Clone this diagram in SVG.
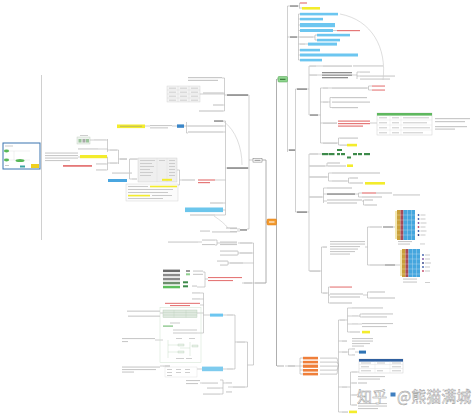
<svg xmlns="http://www.w3.org/2000/svg" width="474" height="417" viewBox="0 0 474 417">
<style>
.c{fill:none;stroke:#b0b0b0;stroke-width:.6}
.s{fill:none;stroke:#9a9a9a;stroke-width:.8}
.rel{fill:none;stroke:#c8c8c8;stroke-width:.6}
.t{fill:#c9c9c9}
.k{fill:#8e8e8e}
.r{fill:#e57878}
.b{fill:#6cc6f0}
.bd{fill:#2f74b5}
.y{fill:#f3ec2c}
.o{fill:#ef7f3a}
.gd{fill:#3d8a4a}
.gl{fill:#8fd28f}
.tb{fill:#f7f7f7;stroke:#cfcfcf;stroke-width:.5}
.wm{font-family:"Noto Sans CJK SC","Noto Sans",sans-serif;font-size:15px;fill:#f8f8f8;stroke:#999999;stroke-width:.45}
</style>
<rect width="474" height="417" fill="#ffffff"/>

<g id="connectors">
<path class="s" d="M276.5,79V366M276,222H277M277,79H278M277,366H279"/>
<path class="c" d="M287.5,6V152M287.5,6H290M287.5,37H290M287.5,150H289"/>
<path class="c" d="M298,6H299.5M299.5,3V8.5M299.5,3H300M299.5,8H302"/>
<path class="c" d="M297,37H298.5M298.5,14V60M298.5,14H300M298.5,19H300M298.5,25H300M298.5,30.5H300M298.5,37H300M298.5,44H300M298.5,50H300M298.5,55H300M298.5,60H300M313,37H315M315,35V40M315,35H317M315,40H317M305,44H308M333,30.5H337"/>
<path class="rel" d="M340,14C372,20 387,48 383,80"/>
<path class="c" d="M295,150H295.5M295.5,89V212M295.5,89H297M295.5,212H297"/>
<path class="c" d="M307,89H309M309,66V115M309,66H310M309,75H310M309,115H310M316,66H323M317,75H322M352,75H357M357,72V79M357,72H360M357,76H360"/>
<path class="c" d="M318,115H320.5M320.5,88V143M320.5,88H323M320.5,102H323M320.5,123H323M320.5,143H323"/>
<path class="c" d="M328,88H332M367,88H368.5M368.5,86V90M368.5,86H372M368.5,90H372M328,102H330M330,97.5V107.5M330,97.5H332M330,107.5H332M370,123H377M337,143H338.5M338.5,138V145M338.5,138H340M338.5,145H340"/>
<path class="c" d="M307,212H309M309,154V271M309,154H310M309,166H310M309,177H310M309,197H310M309,271H310"/>
<path class="c" d="M318,154H322M325,166H327M327,163V166M327,163H328M327,166H328M327,177H328.5M328.5,173V181M328.5,173H332M328.5,181H332M347,181H348.5M348.5,178V183M348.5,178H350M348.5,183H350M322,197H323.5M323.5,188V203M323.5,188H327M323.5,194H327M323.5,201H327M355,194H358.5M358.5,193V197M358.5,193H362M358.5,197H362M362,201H363.5M363.5,200V205M363.5,200H365M363.5,205H365"/>
<path class="c" d="M320,271H321.5M321.5,247V293M321.5,247H323M321.5,293H323M365,247H367.5M367.5,227V265M367.5,227H370M367.5,265H370M393,227H395M395,265H400"/>
<path class="c" d="M327,293H328.5M328.5,287V303M328.5,287H330M328.5,295H330M328.5,303H330M363,295H367.5M367.5,292V298M367.5,292H370M367.5,298H370"/>
<path class="c" d="M285,366H300M300,358V374M300,358H303M300,362H303M300,366H303M300,370H303M300,374H303M337,358L338.5,365M337,362L338.5,365M337,366H338.5M337,370L338.5,365M337,374L338.5,365"/>
<path class="c" d="M338.5,320V412M338.5,320H340M338.5,341H342M338.5,352H342M338.5,387H342M338.5,412H342"/>
<path class="c" d="M345,320H347.5M347.5,308V332M347.5,308H352M347.5,316H352M347.5,324H352M347.5,332H350M358,316H360M360,314V317M360,314H362M360,317H362M358,324H362"/>
<path class="c" d="M347,352H348.5M348.5,349V355M348.5,349H352M348.5,355H352M355,352H359M347,387H350.5M350.5,372V405M350.5,372H352M350.5,383H352M350.5,395H352M350.5,405H352M357,372H359"/>
<path class="s" d="M267,222H266M266,160V283M266,160H262M266,283H265"/>
<path class="c" d="M253,160H249M249,95V229M249,95H248M249,168H248M249,229H247M240,229H237"/>
<path class="c" d="M227,95H224.5M224.5,78V111M224.5,78H222M224.5,94H200M224.5,93H223M224.5,105H223M224.5,111H223"/>
<path class="c" d="M227,168H225.5M225.5,121V215M225.5,121H223M225.5,126H223M225.5,132H223M225.5,180H215M225.5,203H223M225.5,210H223M225.5,215H215"/>
<path class="c" d="M188,126H186.5M186.5,122V133M186.5,126H184M186.5,133H188M177,126H172M150,126H145"/>
<path class="c" d="M182,180H179.5M179.5,170V185M179.5,170H177M179.5,185H178"/>
<path class="c" d="M138,159H137M130,159H129.5M129.5,159V179M129.5,179H132M127,159H118.5M118.5,150V164M118.5,150H117M118.5,163H117M110,150H107.5M107.5,139V152M107.5,140H106M107.5,149H98M110,163H107.5M107.5,157V170M107.5,157H107M107.5,164H106M107.5,170H106M94,140H90M77,141H78M80,157H78"/>
<path class="rel" d="M223,121C236,130 242,148 242,165"/>
<path class="rel" d="M214,216C220,220 225,224 228,228"/>
<path class="c" d="M255,283H253.5M253.5,243V365M253.5,243H252M253.5,253H252M253.5,263H243M253.5,283H244M253.5,365H247.5M247.5,342V387M247.5,342H245M247.5,387H245"/>
<path class="c" d="M240,243H238M240,253H238M238,251V255M238,251H237M238,255H237M237,243H217M217,240V245M217,240H215M217,245H215M202,242H198M230,263H228M228,261V265M228,261H227M228,265H227M240,231H237"/>
<path class="c" d="M244,283H242M208,279H205M205,272V287M205,272H203M205,287H197"/>
<path class="c" d="M237,342H235M235,315V369M235,315H233M235,369H233M227,315H223M210,315H203.5M203.5,293V333M203.5,293H200M203.5,299H200M203.5,305H200M203.5,313H197M203.5,333H197M227,369H223M202,369H197M170,366H165M163,366H160M163,313H160M163,340H155"/>
<path class="c" d="M233,387H228M226,383H223M223,380V394M223,380H220M223,388H220M223,394H220M202,383H200"/>
<path class="c" d="M41.5,75V240" stroke="#cccccc"/>
</g>

<g id="root"><rect x="267" y="219" width="9.5" height="6" rx="1" fill="#f29a2e" stroke="#e07b10" stroke-width=".5"/><rect x="269" y="221.5" width="5.5" height="1" fill="#fff"/></g>
<g id="green-node"><rect x="278" y="76.5" width="9.5" height="5.5" rx="1" fill="#8fd58f" stroke="#4aa04a" stroke-width=".5"/><rect x="280" y="78.8" width="5.5" height="1" fill="#2d6b2d"/></g>

<g id="top-right">
<rect class="k" x="290" y="5.3" width="8" height="1.5"/>
<rect class="r" x="300" y="2.4" width="7" height="1.2"/>
<rect class="y" x="302" y="7" width="18" height="2.6"/>
<rect class="k" x="290" y="36.3" width="7" height="1.5"/>
<rect class="b" x="300" y="12.8" width="38" height="2.6"/>
<rect class="b" x="300" y="17.8" width="23" height="2.6"/>
<rect class="b" x="300" y="23" width="35" height="4.2"/>
<rect class="b" x="300" y="29" width="33" height="3"/>
<rect class="r" x="337" y="30" width="23" height="1.2"/>
<rect class="t" x="300" y="36.4" width="13" height="1.3"/>
<rect class="b" x="317" y="33.8" width="33" height="2.6"/>
<rect class="b" x="317" y="38.8" width="23" height="2.6"/>
<rect class="t" x="300" y="43.4" width="5" height="1.3"/>
<rect class="b" x="308" y="42.6" width="29" height="3"/>
<rect class="b" x="300" y="48.8" width="20" height="2.6"/>
<rect class="b" x="300" y="53.5" width="58" height="3"/>
<rect class="b" x="300" y="58.8" width="22" height="2.6"/>
</g>

<g id="branch-a">
<rect class="k" x="289" y="149.3" width="6" height="1.6"/>
<rect class="k" x="297" y="88.3" width="10" height="1.6"/>
<rect class="t" x="310" y="65.4" width="6" height="1.3"/>
<rect class="t" x="323" y="65.4" width="29" height="1.3"/>
<rect class="t" x="353" y="65.4" width="30" height="1.1"/>
<rect class="t" x="310" y="74.4" width="7" height="1.3"/>
<rect class="k" x="322" y="72" width="30" height="1.3"/>
<rect class="k" x="322" y="74.5" width="30" height="1.3"/>
<rect class="k" x="322" y="77" width="26" height="1.3"/>
<rect class="t" x="360" y="71.5" width="10" height="1.1"/>
<rect class="t" x="360" y="75.5" width="35" height="1.1"/>
<rect class="t" x="360" y="78.5" width="30" height="1.1"/>
<rect class="k" x="310" y="114.3" width="8" height="1.5"/>
<rect class="t" x="323" y="87.4" width="5" height="1.3"/>
<rect class="t" x="332" y="87.4" width="35" height="1.3"/>
<rect class="r" x="372" y="85.5" width="13" height="1.1"/>
<rect class="r" x="372" y="89.5" width="13" height="1.1"/>
<rect class="t" x="323" y="101.4" width="5" height="1.3"/>
<rect class="t" x="332" y="97" width="35" height="1.2"/>
<rect class="t" x="332" y="101.5" width="38" height="1.2"/>
<rect class="t" x="332" y="107" width="26" height="1.2"/>
<rect class="t" x="323" y="122.4" width="14" height="1.4"/>
<rect class="r" x="338" y="120.5" width="32" height="1.2"/>
<rect class="r" x="338" y="123" width="32" height="1.2"/>
<rect class="r" x="338" y="125.5" width="25" height="1.2"/>
<rect class="t" x="323" y="142.4" width="14" height="1.4"/>
<rect class="t" x="340" y="137.5" width="18" height="1.2"/>
<rect class="t" x="340" y="144.5" width="7" height="1.2"/>
<rect class="y" x="347" y="143.8" width="10" height="2.6"/>
<g id="green-table">
<rect x="377" y="113" width="55" height="22" fill="#fff" stroke="#cfcfcf" stroke-width=".5"/>
<rect x="377" y="113" width="55" height="2.6" fill="#5fb85f"/>
<path d="M377,120H432M377,125H432M377,130H432M390,115.6V135M401,115.6V135" stroke="#dddddd" stroke-width=".4"/>
<rect class="t" x="379" y="117.3" width="8" height="1"/><rect class="t" x="392" y="117.3" width="7" height="1"/><rect class="t" x="403" y="117.3" width="26" height="1"/>
<rect class="t" x="379" y="122.3" width="8" height="1"/><rect class="t" x="392" y="122.3" width="7" height="1"/><rect class="t" x="403" y="122.3" width="24" height="1"/>
<rect class="t" x="379" y="127.3" width="8" height="1"/><rect class="t" x="392" y="127.3" width="7" height="1"/><rect class="t" x="403" y="127.3" width="27" height="1"/>
<rect class="t" x="379" y="132.3" width="8" height="1"/><rect class="t" x="392" y="132.3" width="7" height="1"/><rect class="t" x="403" y="132.3" width="20" height="1"/>
</g>
<rect class="t" x="435" y="118" width="35" height="1.2"/>
<rect class="t" x="435" y="121" width="30" height="1.2"/>
<rect class="t" x="435" y="126" width="32" height="1.2"/>
<rect class="t" x="435" y="128.5" width="20" height="1.2"/>
</g>

<g id="branch-b">
<rect class="k" x="297" y="211.3" width="10" height="1.6"/>
<rect class="t" x="310" y="153.3" width="8" height="1.4"/>
<rect class="gd" x="337" y="149" width="5" height="2"/>
<rect class="gd" x="322" y="153" width="6" height="2.2"/>
<rect class="gd" x="328.5" y="153" width="6" height="2.2"/>
<rect class="gd" x="337" y="153" width="3" height="2.2"/>
<rect class="gd" x="341" y="153" width="4" height="2.2"/>
<rect class="gd" x="353" y="153" width="4" height="2.2"/>
<rect class="gd" x="358" y="153" width="4" height="2.2"/>
<rect class="gd" x="364" y="153" width="6" height="2.2"/>
<rect class="gd" x="347" y="156.5" width="4" height="2"/>
<rect class="t" x="310" y="165.3" width="15" height="1.4"/>
<rect class="t" x="328" y="162.4" width="12" height="1.2"/>
<rect class="t" x="328" y="165.4" width="18" height="1.2"/>
<rect class="y" x="347" y="164.4" width="6" height="2.6"/>
<rect class="t" x="310" y="176.3" width="17" height="1.4"/>
<rect class="t" x="332" y="172.4" width="48" height="1.2"/>
<rect class="t" x="332" y="180.4" width="15" height="1.2"/>
<rect class="t" x="350" y="177.4" width="8" height="1.2"/>
<rect class="t" x="350" y="182.4" width="13" height="1.2"/>
<rect class="y" x="365" y="182" width="20" height="2.6"/>
<rect class="t" x="310" y="196.3" width="12" height="1.4"/>
<rect class="t" x="327" y="187.4" width="25" height="1.2"/>
<rect class="k" x="327" y="193.3" width="28" height="1.5"/>
<rect class="r" x="362" y="192.4" width="14" height="1.2"/>
<rect class="t" x="376" y="192.4" width="16" height="1.2"/>
<rect class="t" x="362" y="196.4" width="20" height="1.2"/>
<rect class="t" x="393" y="194.4" width="27" height="1.1"/>
<rect class="t" x="327" y="199.4" width="35" height="1.2"/>
<rect class="t" x="327" y="202.4" width="30" height="1.2"/>
<rect class="t" x="365" y="199.4" width="8" height="1.2"/>
<rect class="t" x="365" y="204.4" width="12" height="1.2"/>
<rect class="t" x="310" y="270.3" width="10" height="1.5"/>
<rect class="t" x="323" y="246.4" width="4" height="1.3"/>
<rect class="t" x="330" y="241" width="35" height="1.1"/>
<rect class="t" x="330" y="243.5" width="35" height="1.1"/>
<rect class="t" x="330" y="246" width="30" height="1.1"/>
<rect class="t" x="330" y="248.5" width="28" height="1.1"/>
<rect class="t" x="330" y="251" width="25" height="1.1"/>
<rect class="t" x="330" y="253.5" width="20" height="1.1"/>
<rect class="t" x="370" y="226.4" width="12" height="1.2"/>
<rect class="k" x="383" y="226.4" width="10" height="1.2"/>
<rect class="t" x="370" y="264.4" width="15" height="1.2"/>
<rect class="k" x="385" y="264.4" width="10" height="1.2"/>
<rect class="t" x="323" y="292.4" width="4" height="1.3"/>
<rect class="r" x="330" y="286.5" width="22" height="1.1"/>
<rect class="t" x="330" y="293.4" width="33" height="1.2"/>
<rect class="t" x="330" y="296.4" width="30" height="1.2"/>
<rect class="t" x="370" y="291.4" width="15" height="1.2"/>
<rect class="t" x="370" y="297.4" width="25" height="1.2"/>
<rect class="t" x="330" y="302.4" width="22" height="1.2"/>
</g>

<g id="color-table-1">
<rect x="395.5" y="211" width="1" height="28" fill="#e8d060"/>
<rect x="397" y="210" width="3.5" height="30" fill="#c9a03a"/>
<rect x="400.5" y="210" width="3" height="30" fill="#a84a58"/>
<rect x="403.5" y="210" width="11.5" height="30" fill="#45a6de"/>
<path d="M397,215H415M397,220H415M397,225H415M397,230H415M397,235H415M407.5,210V240M411.5,210V240" stroke="#ffffff" stroke-width=".4" opacity=".7"/>
<circle cx="418.5" cy="215" r=".9" fill="#3a5aa8"/><circle cx="418.5" cy="219" r=".9" fill="#3a5aa8"/><circle cx="418.5" cy="223" r=".9" fill="#7a4aa0"/><circle cx="418.5" cy="227" r=".9" fill="#c04060"/><circle cx="418.5" cy="231" r=".9" fill="#3a5aa8"/><circle cx="418.5" cy="235" r=".9" fill="#2a3a80"/>
<rect class="t" x="420.5" y="214.5" width="5" height="1"/><rect class="t" x="420.5" y="218.5" width="5" height="1"/><rect class="t" x="420.5" y="222.5" width="6" height="1"/><rect class="t" x="420.5" y="226.5" width="5" height="1"/><rect class="t" x="420.5" y="230.5" width="6" height="1"/><rect class="t" x="420.5" y="234.5" width="5" height="1"/>
<rect class="t" x="398" y="241" width="14" height="1.1"/><rect class="t" x="398" y="243.5" width="12" height="1.1"/><rect class="t" x="420" y="243.5" width="5" height=".9"/>
</g>
<g id="color-table-2">
<rect x="400.5" y="250" width="1" height="26" fill="#e8d060"/>
<rect x="402" y="249" width="3.5" height="28" fill="#c9a03a"/>
<rect x="405.5" y="249" width="3" height="28" fill="#a84a58"/>
<rect x="408.5" y="249" width="11.5" height="28" fill="#45a6de"/>
<path d="M402,254H420M402,259H420M402,264H420M402,269H420M402,274H420M412.5,249V277M416.5,249V277" stroke="#ffffff" stroke-width=".4" opacity=".7"/>
<circle cx="423" cy="255" r=".9" fill="#3a5aa8"/><circle cx="423" cy="259" r=".9" fill="#7a4aa0"/><circle cx="423" cy="263" r=".9" fill="#2a3a80"/><circle cx="423" cy="267" r=".9" fill="#3a5aa8"/><circle cx="423" cy="271" r=".9" fill="#c04060"/>
<rect class="t" x="425" y="254.5" width="5" height="1"/><rect class="t" x="425" y="258.5" width="5" height="1"/><rect class="t" x="425" y="262.5" width="6" height="1"/><rect class="t" x="425" y="266.5" width="5" height="1"/><rect class="t" x="425" y="270.5" width="5" height="1"/>
<rect class="t" x="403" y="278.5" width="14" height="1.1"/><rect class="t" x="403" y="281.5" width="14" height="1.1"/><rect class="t" x="425" y="282" width="5" height=".9"/>
</g>

<g id="branch-c">
<rect class="t" x="279" y="365.3" width="5" height="1.4"/>
<rect class="t" x="288" y="365.3" width="7" height="1.4"/>
<rect class="o" x="303" y="356.8" width="15" height="2.6"/>
<rect class="o" x="303" y="360.8" width="15" height="2.6"/>
<rect class="o" x="303" y="364.6" width="15" height="3.2"/>
<rect class="o" x="303" y="369" width="15" height="2.6"/>
<rect class="o" x="303" y="372.8" width="15" height="2.6"/>
<rect class="t" x="320" y="357.6" width="17" height="1"/><rect class="t" x="320" y="361.6" width="17" height="1"/><rect class="t" x="320" y="365.6" width="17" height="1"/><rect class="t" x="320" y="369.6" width="17" height="1"/><rect class="t" x="320" y="373.6" width="17" height="1"/>
<rect class="t" x="340" y="319.4" width="5" height="1.3"/>
<rect class="t" x="352" y="307.4" width="31" height="1.1"/>
<rect class="t" x="352" y="315.4" width="6" height="1.1"/>
<rect class="t" x="362" y="313.4" width="31" height="1.1"/>
<rect class="t" x="362" y="316.4" width="25" height="1.1"/>
<rect class="t" x="352" y="323.4" width="6" height="1.1"/>
<rect class="t" x="362" y="323" width="31" height="1.1"/>
<rect class="t" x="362" y="326" width="25" height="1.1"/>
<rect class="t" x="350" y="331.4" width="10" height="1.2"/>
<rect class="y" x="362" y="330.8" width="8" height="2.6"/>
<rect class="t" x="342" y="340.4" width="5" height="1.3"/>
<rect class="t" x="352" y="338" width="21" height="1.1"/><rect class="t" x="352" y="340.5" width="21" height="1.1"/><rect class="t" x="352" y="343" width="18" height="1.1"/><rect class="t" x="352" y="345.5" width="12" height="1.1"/>
<rect class="t" x="342" y="351.4" width="5" height="1.3"/>
<rect class="t" x="352" y="348.4" width="3" height="1.1"/><rect class="t" x="352" y="354.4" width="3" height="1.1"/>
<rect class="bd" x="359" y="350.6" width="7" height="3"/>
<rect class="t" x="342" y="386.4" width="5" height="1.3"/>
<rect class="t" x="352" y="371.4" width="5" height="1.2"/>
<g id="blue-table">
<rect x="359" y="359" width="44" height="14" fill="#fff" stroke="#cfcfcf" stroke-width=".5"/>
<rect x="359" y="359" width="44" height="2.6" fill="#2f5f9f"/>
<path d="M359,364.5H403M359,368.5H403M375,361.6V373M390,361.6V373" stroke="#dddddd" stroke-width=".4"/>
<rect class="t" x="361" y="362.5" width="10" height="1"/><rect class="t" x="377" y="362.5" width="8" height="1"/><rect class="t" x="392" y="362.5" width="9" height="1"/>
<rect class="t" x="361" y="366.3" width="8" height="1"/><rect class="t" x="392" y="366.3" width="9" height="1"/>
<rect class="t" x="361" y="370.3" width="10" height="1"/><rect class="t" x="377" y="370.3" width="6" height="1"/><rect class="t" x="392" y="370.3" width="9" height="1"/>
</g>
<rect class="t" x="358" y="376" width="27" height="1.1"/><rect class="t" x="358" y="378.5" width="22" height="1.1"/>
<rect class="t" x="352" y="382.4" width="5" height="1.2"/><rect class="t" x="358" y="382.4" width="9" height="1.2"/>
<rect class="t" x="352" y="394.4" width="5" height="1.2"/>
<rect x="390.5" y="392.5" width="5" height="4" fill="#3f7fc0"/>
<rect class="t" x="352" y="404.4" width="5" height="1.2"/>
<rect class="t" x="358" y="403" width="29" height="1.1"/><rect class="t" x="358" y="405.5" width="29" height="1.1"/><rect class="t" x="358" y="408" width="20" height="1.1"/>
<rect class="t" x="342" y="411.4" width="6" height="1.3"/>
<rect class="y" x="349" y="410.6" width="8" height="2.6"/>
</g>

<g id="left-upper">
<rect x="253" y="158.6" width="9" height="3.5" fill="#fff" stroke="#777" stroke-width=".5"/>
<rect class="k" x="254.5" y="159.8" width="6" height="1"/>
<rect class="k" x="227" y="94.2" width="21" height="1.7"/>
<rect class="t" x="188" y="77" width="34" height="1.2"/>
<rect class="t" x="188" y="79.8" width="30" height="1.2"/>
<g id="gray-table-top">
<rect x="167" y="86" width="33" height="16" fill="#f4f4f4" stroke="#cdcdcd" stroke-width=".4"/>
<path d="M167,90H200M167,94H200M167,98H200M178,86V102M189,86V102" stroke="#d6d6d6" stroke-width=".4"/>
<rect class="t" x="169" y="87.7" width="7" height=".9"/><rect class="t" x="180" y="87.7" width="7" height=".9"/><rect class="t" x="191" y="87.7" width="7" height=".9"/>
<rect class="t" x="169" y="91.7" width="7" height=".9"/><rect class="t" x="180" y="91.7" width="7" height=".9"/><rect class="t" x="191" y="91.7" width="7" height=".9"/>
<rect class="t" x="169" y="95.7" width="7" height=".9"/><rect class="t" x="180" y="95.7" width="7" height=".9"/><rect class="t" x="191" y="95.7" width="7" height=".9"/>
<rect class="t" x="169" y="99.7" width="7" height=".9"/><rect class="t" x="180" y="99.7" width="7" height=".9"/><rect class="t" x="191" y="99.7" width="7" height=".9"/>
</g>
<rect class="t" x="203" y="92.4" width="20" height="1.2"/>
<rect class="t" x="213" y="104.4" width="10" height="1.2"/>
<rect class="t" x="199" y="110.4" width="24" height="1.2"/>
<rect class="k" x="227" y="167.2" width="21" height="1.7"/>
<rect class="k" x="214" y="120.3" width="9" height="1.5"/>
<rect class="t" x="188" y="125.4" width="35" height="1.2"/>
<rect class="t" x="188" y="131.4" width="35" height="1.2"/>
<rect x="177" y="124.4" width="7" height="3.4" fill="#3a86c8"/>
<rect class="t" x="150" y="125" width="22" height="1.1"/>
<rect class="t" x="150" y="127.3" width="18" height="1.1"/>
<rect class="y" x="117" y="124.5" width="28" height="3.6"/>
<rect class="k" x="120" y="125.8" width="22" height="1" opacity=".5"/>
<rect class="t" x="182" y="179.4" width="13" height="1.2"/>
<rect class="r" x="198" y="179.4" width="17" height="1.2"/>
<rect class="r" x="198" y="182" width="12" height="1.2"/>
<rect class="t" x="210" y="202.4" width="13" height="1.2"/>
<rect x="185" y="207.5" width="38" height="4.6" fill="#6cc6ec"/>
<rect class="t" x="190" y="214.4" width="25" height="1.2"/>
<rect class="t" x="226" y="227.4" width="11" height="1.2"/>
<g id="gray-table-mid">
<rect x="138" y="158" width="39" height="24" fill="#efefef" stroke="#c8c8c8" stroke-width=".4"/>
<path d="M157,158V182M167,158V182" stroke="#d8d8d8" stroke-width=".4"/>
<rect class="t" x="140" y="160" width="15" height=".9"/><rect class="t" x="159" y="160" width="6" height=".9"/><rect class="t" x="169" y="160" width="6" height=".9"/>
<rect class="t" x="140" y="163" width="12" height=".9"/><rect class="t" x="169" y="163" width="6" height=".9"/>
<rect class="t" x="140" y="166" width="14" height=".9"/><rect class="t" x="169" y="166" width="6" height=".9"/>
<rect class="t" x="140" y="169" width="10" height=".9"/><rect class="t" x="169" y="169" width="6" height=".9"/>
<rect class="t" x="140" y="172" width="13" height=".9"/><rect class="t" x="169" y="172" width="6" height=".9"/>
<rect class="t" x="140" y="175" width="11" height=".9"/><rect class="t" x="169" y="175" width="6" height=".9"/>
<rect class="y" x="162" y="178.8" width="10" height="2"/>
</g>
<rect x="126" y="184" width="52" height="17" fill="#fbfbfb" stroke="#cccccc" stroke-width=".4"/>
<rect class="t" x="128" y="186" width="20" height="1"/><rect class="y" x="150" y="185.7" width="27" height="1.6"/>
<rect class="t" x="128" y="189" width="45" height="1"/>
<rect class="t" x="128" y="192" width="40" height="1"/>
<rect class="y" x="128" y="194.8" width="22" height="1.6"/><rect class="t" x="152" y="195" width="20" height="1"/>
<rect class="t" x="128" y="198" width="35" height="1"/>
</g>

<g id="left-far">
<rect class="t" x="130" y="158.4" width="7" height="1.3"/>
<rect class="t" x="132" y="178.4" width="5" height="1.2"/>
<rect x="108" y="179" width="19" height="3" fill="#4aa6e0"/>
<rect class="t" x="112" y="172.5" width="20" height="1.1"/>
<rect class="t" x="120" y="158.4" width="7" height="1.3"/>
<rect class="t" x="110" y="149.4" width="7" height="1.3"/>
<rect class="t" x="110" y="162.4" width="7" height="1.3"/>
<rect x="77" y="137" width="13" height="7" fill="#eef3ee" stroke="#b9c9b9" stroke-width=".4"/>
<rect x="78.5" y="139" width="3" height="3.5" fill="#9bc59b"/><rect x="82.5" y="139" width="3" height="3.5" fill="#a9a9a9"/><rect x="86" y="139" width="3" height="3.5" fill="#9bc59b"/>
<rect class="t" x="80" y="135" width="8" height=".9"/>
<rect class="t" x="94" y="139.4" width="12" height="1.1"/>
<rect class="t" x="78" y="148.4" width="20" height="1.1"/>
<rect class="y" x="80" y="155" width="27" height="3.2"/>
<rect class="r" x="63" y="165" width="29" height="1.8"/>
<rect class="t" x="96" y="163.4" width="10" height="1.1"/>
<rect class="t" x="96" y="169.4" width="10" height="1.1"/>
<rect class="t" x="45" y="152.5" width="33" height="1.1"/>
<rect class="t" x="45" y="155" width="33" height="1.1"/>
<rect class="t" x="45" y="157.5" width="33" height="1.1"/>
<rect class="t" x="45" y="160" width="25" height="1.1"/>
</g>

<g id="frame-image">
<rect x="3" y="143" width="37" height="26" fill="#ffffff" stroke="#3b74b0" stroke-width="1"/>
<rect class="t" x="5" y="145.5" width="8" height="1"/>
<path d="M8,151H30M8,160H30M14,151V160" stroke="#d8d8d8" stroke-width=".4"/>
<ellipse cx="6.5" cy="151" rx="2.6" ry="1.4" fill="#58b858"/>
<ellipse cx="6.5" cy="160" rx="2.6" ry="1.4" fill="#58b858"/>
<ellipse cx="20" cy="160.5" rx="4.5" ry="1.6" fill="#58b858"/>
<rect x="20" y="165.5" width="5" height="2" fill="#3aa3a3"/>
<rect x="31" y="164" width="8" height="4" fill="#f0d020"/>
<rect class="t" x="5" y="165" width="4" height="1"/>
</g>

<g id="left-lower">
<rect class="t" x="255" y="282.2" width="10" height="1.6"/>
<rect class="k" x="240" y="229.2" width="7" height="1.5"/>
<rect class="t" x="230" y="228" width="7" height="1.1"/><rect class="t" x="230" y="231" width="7" height="1.1"/>
<rect class="t" x="200" y="230.5" width="10" height="1.1"/>
<rect class="t" x="212" y="231.4" width="25" height="1.1"/>
<rect class="t" x="240" y="242.3" width="12" height="1.4"/>
<rect class="t" x="220" y="241.5" width="17" height="1.1"/><rect class="t" x="220" y="244" width="17" height="1.1"/>
<rect class="t" x="202" y="239.5" width="13" height="1.1"/><rect class="t" x="202" y="244" width="13" height="1.1"/>
<rect class="t" x="168" y="241.5" width="30" height="1.1"/>
<rect class="t" x="240" y="252.3" width="12" height="1.4"/>
<rect class="t" x="220" y="250.5" width="17" height="1.1"/><rect class="t" x="220" y="254.5" width="17" height="1.1"/>
<rect class="t" x="230" y="262.3" width="13" height="1.4"/>
<rect class="t" x="217" y="260.5" width="10" height="1.1"/><rect class="t" x="220" y="264.5" width="7" height="1.1"/>
<rect class="t" x="244" y="282.4" width="8" height="1.2"/>
<rect class="r" x="208" y="277" width="34" height="1.1"/><rect class="r" x="208" y="280" width="25" height="1.1"/>
<rect x="163" y="269.6" width="17" height="2.5" fill="#6a6a6a"/>
<rect x="163" y="273.8" width="17" height="2.5" fill="#8a8a8a"/>
<rect x="163" y="277.8" width="17" height="2.5" fill="#8a8a8a"/>
<rect x="163" y="281.8" width="17" height="2.5" fill="#6d8f6d"/>
<rect x="163" y="285.8" width="17" height="2.5" fill="#5cbf5c"/>
<rect x="186" y="270" width="4" height="2" fill="#9a9a9a"/><rect x="186" y="273.3" width="4" height="2" fill="#8fcf8f"/>
<rect class="t" x="193" y="270.5" width="10" height="1.1"/><rect class="t" x="193" y="273.8" width="10" height="1.1"/>
<rect class="gd" x="183" y="281.3" width="5" height="2"/><rect class="gd" x="183" y="285.3" width="5" height="2"/>
<rect class="t" x="192" y="285.5" width="5" height="1.1"/>
<rect class="t" x="192" y="292.4" width="8" height="1.1"/>
<rect class="t" x="192" y="298.4" width="8" height="1.1"/>
<rect class="r" x="165" y="302.8" width="35" height="1.1"/><rect class="r" x="170" y="305" width="20" height="1.1"/>
<rect x="160" y="307.5" width="41" height="55" fill="none" stroke="#cfe2cf" stroke-width=".5"/>
<rect x="163" y="310" width="34" height="7.5" fill="#dfe9df" stroke="#b5cab5" stroke-width=".4"/>
<path d="M163,312.5H197M163,315H197M174,310V317.5M186,310V317.5" stroke="#b5cab5" stroke-width=".3"/>
<rect class="t" x="127" y="310.6" width="33" height="1.1"/><rect class="t" x="128" y="315.6" width="32" height="1.1"/>
<rect class="t" x="170" y="322.5" width="10" height="1"/>
<rect x="163" y="325.5" width="10" height="1.2" fill="#7cbf7c"/>
<rect class="t" x="173" y="329.5" width="24" height="1"/><rect class="t" x="173" y="332.5" width="24" height="1"/>
<rect x="210" y="313.6" width="13" height="3" class="b"/>
<rect class="t" x="227" y="314.4" width="6" height="1.2"/>
<rect class="t" x="237" y="341.4" width="8" height="1.3"/>
<g id="mini-diagram">
<path d="M168,340V358M168,345H178M168,352H178M190,342V356M180,348H190" stroke="#bcd4bc" stroke-width=".4" fill="none"/>
<rect x="178" y="344" width="6" height="2" fill="#e9f2e9" stroke="#aac4aa" stroke-width=".3"/>
<rect x="178" y="351" width="6" height="2" fill="#e9f2e9" stroke="#aac4aa" stroke-width=".3"/>
<rect x="192" y="345" width="6" height="2" fill="#e9f2e9" stroke="#aac4aa" stroke-width=".3"/>
<rect class="t" x="176" y="338" width="6" height=".9"/><rect class="t" x="189" y="338" width="6" height=".9"/>
<rect class="t" x="176" y="358" width="8" height=".9"/><rect class="t" x="186" y="358" width="6" height=".9"/>
</g>
<rect class="t" x="122" y="338" width="33" height="1.1"/><rect class="t" x="122" y="341" width="6" height="1.1"/>
<rect class="t" x="122" y="366.5" width="38" height="1.1"/><rect class="t" x="122" y="369" width="34" height="1.1"/><rect class="t" x="122" y="371.5" width="12" height="1.1"/>
<rect class="t" x="163" y="365.5" width="7" height="1.1"/>
<rect x="165" y="367" width="32" height="10" fill="#fff" stroke="#dcdcdc" stroke-width=".4"/>
<rect class="t" x="167" y="369" width="5" height=".9"/><rect class="t" x="176" y="369" width="5" height=".9"/><rect class="t" x="185" y="369" width="5" height=".9"/>
<rect class="t" x="167" y="372" width="5" height=".9"/><rect class="t" x="176" y="372" width="5" height=".9"/><rect class="t" x="185" y="372" width="5" height=".9"/>
<rect class="t" x="167" y="375" width="5" height=".9"/>
<rect x="202" y="366.6" width="21" height="4.6" fill="#7ecbee"/>
<rect class="t" x="227" y="368.4" width="6" height="1.2"/>
<rect class="t" x="233" y="386.4" width="12" height="1.3"/>
<rect class="t" x="226" y="382.4" width="6" height="1.1"/><rect class="t" x="226" y="391.4" width="6" height="1.1"/>
<rect class="t" x="186" y="380" width="14" height="1.1"/><rect class="t" x="186" y="383" width="12" height="1.1"/>
<rect class="t" x="202" y="382.5" width="16" height="1.1"/>
<rect class="t" x="207" y="387.5" width="13" height="1.1"/>
<rect class="t" x="203" y="393.5" width="17" height="1.1"/>
</g>

<g id="watermark">
<text class="wm" x="357" y="402">知乎</text>
<text class="wm" x="397" y="402">@熊猫满城</text>
</g>
</svg>
